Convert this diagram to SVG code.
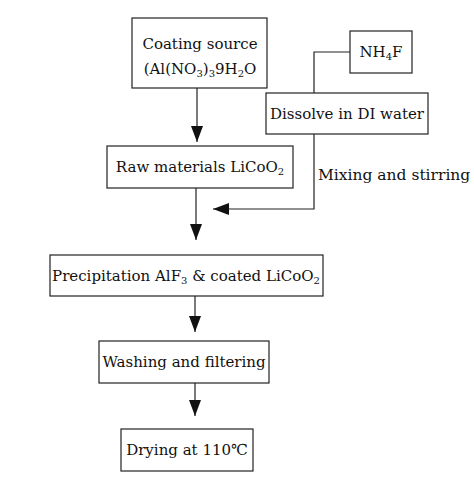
<svg xmlns="http://www.w3.org/2000/svg" width="474" height="482" viewBox="0 0 474 482">
<style>
.box{fill:#fff;stroke:#222;stroke-width:1.2}
.t{font-family:"DejaVu Serif","Liberation Serif",serif;font-size:15px;fill:#111;text-anchor:middle}
.s{font-size:10px}
.ln{fill:none;stroke:#222;stroke-width:1.2}
</style>
<defs>
<marker id="ahl" viewBox="0 0 16 12" refX="16" refY="6" markerWidth="16" markerHeight="12" markerUnits="userSpaceOnUse" orient="auto">
<path d="M0,0 L16,6 L0,12 Z" fill="#111"/>
</marker>
</defs>
<rect width="474" height="482" fill="#fff"/>
<g id="connectors">
<line class="ln" x1="197" y1="88" x2="197" y2="142" marker-end="url(#ahl)"/>
<line class="ln" x1="196" y1="188" x2="196" y2="240" marker-end="url(#ahl)"/>
<polyline class="ln" points="350,52 314,52 314,93"/>
<polyline class="ln" points="314,134 314,209 213,209" marker-end="url(#ahl)"/>
<line class="ln" x1="195" y1="296" x2="195" y2="332" marker-end="url(#ahl)"/>
<line class="ln" x1="195" y1="383" x2="195" y2="416" marker-end="url(#ahl)"/>
</g>
<g id="coating">
<rect class="box" x="132" y="18" width="135" height="70"/>
<text class="t" x="200" y="49">Coating source</text>
<text class="t" x="200" y="74">(Al(NO<tspan class="s" dy="3">3</tspan><tspan dy="-3">)</tspan><tspan class="s" dy="3">3</tspan><tspan dy="-3">9H</tspan><tspan class="s" dy="3">2</tspan><tspan dy="-3">O</tspan></text>
</g>
<g id="nh4f">
<rect class="box" x="350" y="31" width="62" height="42"/>
<text class="t" x="381" y="57">NH<tspan class="s" dy="3">4</tspan><tspan dy="-3">F</tspan></text>
</g>
<g id="dissolve">
<rect class="box" x="266" y="93" width="162" height="41"/>
<text class="t" x="347" y="119">Dissolve in DI water</text>
</g>
<g id="raw">
<rect class="box" x="107" y="146" width="186" height="42"/>
<text class="t" x="200" y="172">Raw materials LiCoO<tspan class="s" dy="3">2</tspan></text>
</g>
<g id="mixing">
<text class="t" x="318" y="180" style="text-anchor:start;font-size:15.5px">Mixing and stirring</text>
</g>
<g id="precip">
<rect class="box" x="50" y="255" width="273" height="41"/>
<text class="t" x="186" y="281">Precipitation AlF<tspan class="s" dy="3">3</tspan><tspan dy="-3"> &amp; coated LiCoO</tspan><tspan class="s" dy="3">2</tspan></text>
</g>
<g id="washing">
<rect class="box" x="99" y="341" width="170" height="42"/>
<text class="t" x="184" y="367">Washing and filtering</text>
</g>
<g id="drying">
<rect class="box" x="121" y="429" width="132" height="42"/>
<text class="t" x="187" y="455">Drying at 110℃</text>
</g>
</svg>
